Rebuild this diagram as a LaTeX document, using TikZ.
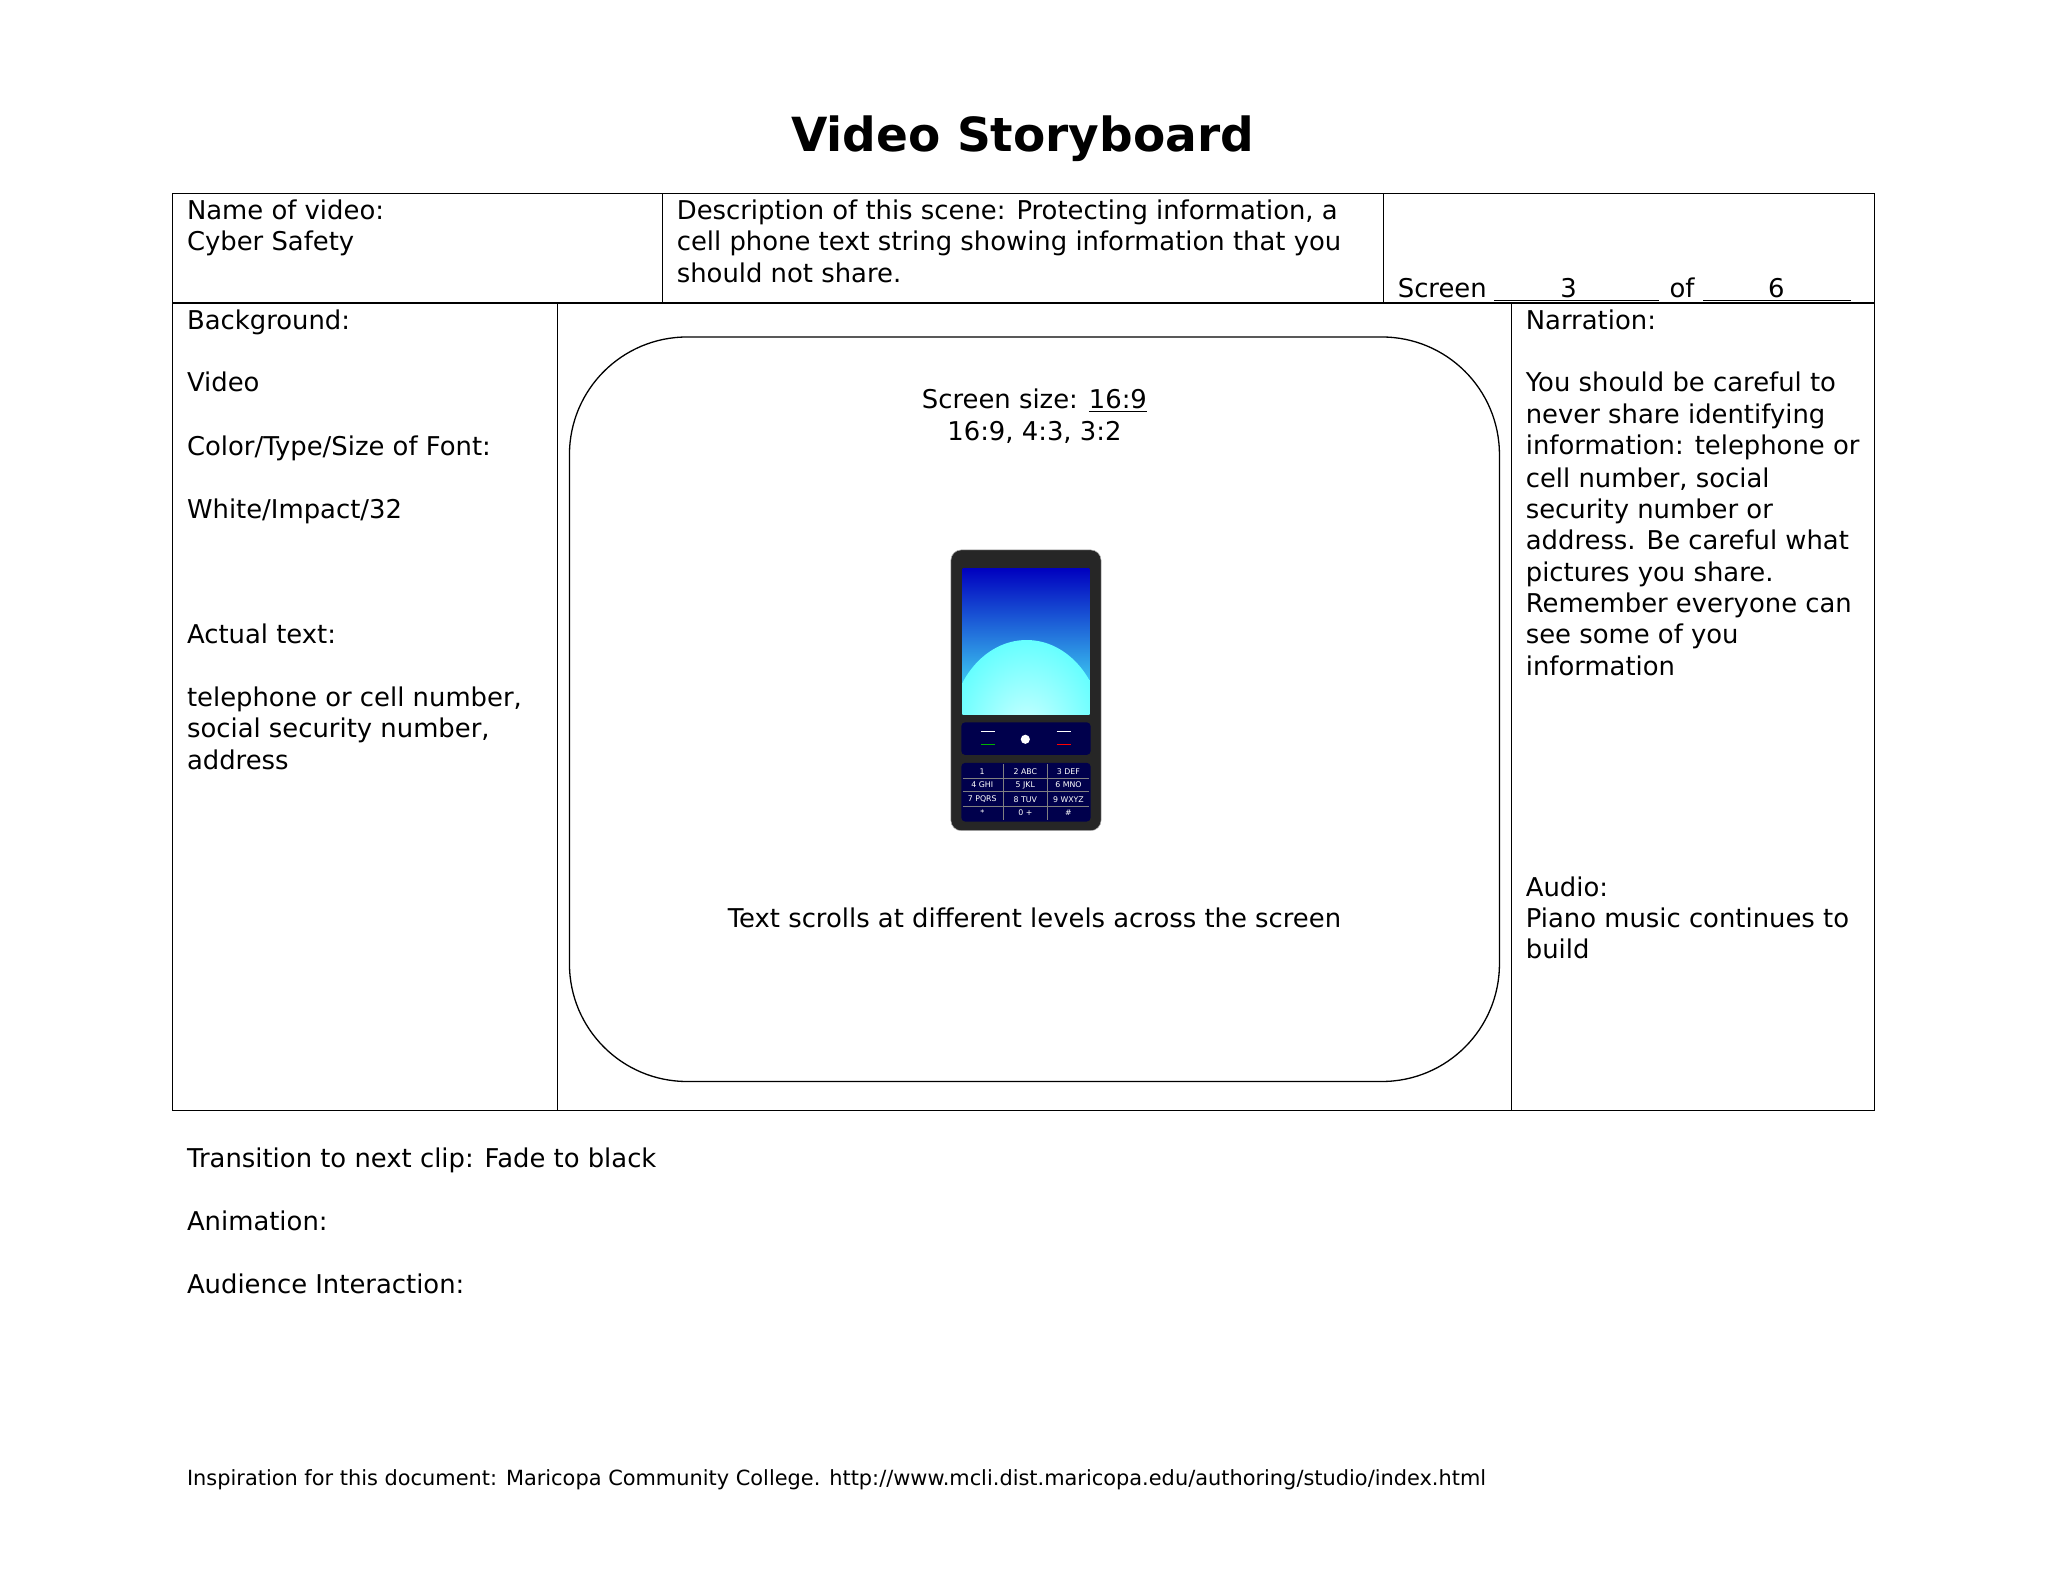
\documentclass[tikz,border=0pt]{standalone}
\usepackage{fontspec}
\setmainfont{DejaVu Sans}
\begin{document}
\begin{tikzpicture}[x=1pt,y=-1pt,
  txt/.style={anchor=base west,inner sep=0,font=\fontsize{19.8}{24}\selectfont},
  ctxt/.style={anchor=base,inner sep=0,font=\fontsize{19.8}{24}\selectfont},
  rule/.style={line width=1pt}]
\useasboundingbox (0,0) rectangle (1568,1211);
\node[anchor=base,font=\fontsize{36}{40}\selectfont\bfseries] (title) at (783,116) {Video Storyboard};
% table
\draw[rule] (132,148) rectangle (1435,850);
\draw[rule] (132,232) -- (1435,232);
\draw[rule] (507,148) -- (507,232);
\draw[rule] (1059,148) -- (1059,232);
\draw[rule] (427,232) -- (427,850);
\draw[rule] (1157,232) -- (1157,850);
\draw[rule,rounded corners=90pt] (436,258) rectangle (1148,828);
% top row
\node[txt] (n1) at (143,168) {Name of video:};
\node[txt] (n2) at (143,192) {Cyber Safety};
\node[txt] (d1) at (518,168) {Description of this scene: Protecting information, a};
\node[txt] (d2) at (518,192) {cell phone text string showing information that you};
\node[txt] (d3) at (518,216) {should not share.};
\node[txt] (s1) at (1070,228) {Screen};
\draw (1144,230) -- (1270,230);
\node[ctxt] (s3) at (1201,228) {3};
\node[txt] (sof) at (1278,228) {of};
\draw (1304,230) -- (1417,230);
\node[ctxt] (s6) at (1360,228) {6};
% left column
\node[txt] at (143,252) {Background:};
\node[txt] at (143,300) {Video};
\node[txt] at (143,349) {Color/Type/Size of Font:};
\node[txt] at (143,397) {White/Impact/32};
\node[txt] at (143,493) {Actual text:};
\node[txt] at (143,541) {telephone or cell number,};
\node[txt] at (143,565) {social security number,};
\node[txt] at (143,589) {address};
% center
\node[ctxt] (ss) at (792,313) {Screen size: \underline{16:9}};
\node[ctxt] at (792,337) {16:9, 4:3, 3:2};
\node[ctxt] (scroll) at (792,710) {Text scrolls at different levels across the screen};
% phone
\begin{scope}
\fill[black!85,rounded corners=8pt] (728,421) rectangle (843,636);
\draw[gray!60,rounded corners=8pt] (728,421) rectangle (843,636);
\shade[top color=blue!75!black,bottom color=cyan!70] (737,435) rectangle (834,547);
\begin{scope}
\clip (737,435) rectangle (834,547);
\shade[inner color=white!80!cyan,outer color=cyan!60] (786,560) ellipse (58 and 70);
\end{scope}
\fill[black!70!blue,rounded corners=3pt] (736,553) rectangle (835,578);
\fill[white] (785,566) circle (3.5);
\draw[green!70!black,line width=1.5pt] (751,570) -- (762,570);
\draw[red,line width=1.5pt] (809,570) -- (820,570);
\draw[white,line width=1pt] (751,560) -- (762,560) (809,560) -- (820,560);
\fill[black!70!blue,rounded corners=3pt] (736,584) rectangle (835,629);
\foreach \xx in {768,802} \draw[gray] (\xx,585) -- (\xx,628);
\foreach \yy in {596,606,617} \draw[gray] (737,\yy) -- (834,\yy);
\begin{scope}[every node/.style={font=\fontsize{6}{6}\selectfont,text=white,inner sep=0}]
\node at (752,591) {1 };\node at (785,591) {2 ABC};\node at (818,591) {3 DEF};
\node at (752,601) {4 GHI};\node at (785,601) {5 JKL};\node at (818,601) {6 MNO};
\node at (752,612) {7 PQRS};\node at (785,612) {8 TUV};\node at (818,612) {9 WXYZ};
\node at (752,622) {*};\node at (785,622) {0 +};\node at (818,622) {\#};
\end{scope}
\end{scope}
% right column
\node[txt] at (1168,252) {Narration:};
\node[txt] at (1168,300) {You should be careful to};
\node[txt] at (1168,324) {never share identifying};
\node[txt] at (1168,348) {information: telephone or};
\node[txt] at (1168,373) {cell number, social};
\node[txt] at (1168,397) {security number or};
\node[txt] at (1168,421) {address. Be careful what};
\node[txt] at (1168,445) {pictures you share.};
\node[txt] at (1168,469) {Remember everyone can};
\node[txt] at (1168,493) {see some of you};
\node[txt] at (1168,517) {information};
\node[txt] at (1168,686) {Audio:};
\node[txt] at (1168,710) {Piano music continues to};
\node[txt] at (1168,734) {build};
% bottom
\node[txt] at (143,894) {Transition to next clip: Fade to black};
\node[txt] at (143,942) {Animation:};
\node[txt] at (143,990) {Audience Interaction:};
\node[anchor=base west,inner sep=0,font=\fontsize{16}{18}\selectfont] at (143,1137) {Inspiration for this document: Maricopa Community College. http://www.mcli.dist.maricopa.edu/authoring/studio/index.html};
\end{tikzpicture}
\end{document}
